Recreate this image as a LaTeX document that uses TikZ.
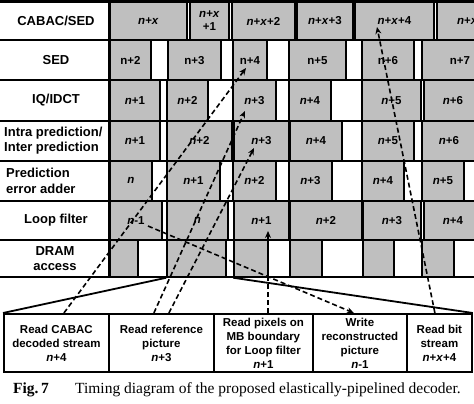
\documentclass[tikz,border=0pt]{standalone}
\usepackage{fontspec}
\setmainfont{Liberation Sans}
\newfontfamily\capfont{Liberation Serif}
\usetikzlibrary{arrows.meta}

\newcommand\nv{\textit{n}}
\newcommand\xv{\textit{x}}

\begin{document}
\begin{tikzpicture}[x=1pt, y=-1pt, >={Stealth[length=7pt,width=6pt]},
  cell/.style={draw, line width=1.5pt, fill=gray!50, inner sep=0pt, align=center,
    font=\bfseries\fontsize{11.5}{13}\selectfont},
  rowlbl/.style={inner sep=0pt, font=\bfseries\fontsize{13}{15}\selectfont},
  taskbox/.style={draw, line width=1.8pt, anchor=north west, minimum height=58,
    inner sep=0pt, align=center, font=\bfseries\fontsize{11.5}{14}\selectfont},
  link/.style={->, line width=1.6pt, dash pattern=on 5pt off 3pt}]
\useasboundingbox (0,0) rectangle (474,404);
\clip (0,0) rectangle (474,404);

% pipeline slots, one row per stage
\foreach \a/\b/\t [count=\i] in {110/187/\nv+\xv, 190/229/{\nv+\xv\\+1}, 232/295/\nv+\xv+2,
    297/353/\nv+\xv+3, 355/434/\nv+\xv+4, 437/511/\nv+\xv+5}
  \node[cell, minimum width=\b-\a, minimum height=39] (cab\i) at ({(\a+\b)/2},21) {\t};
\foreach \a/\b/\t [count=\i] in {110/151/n+2, 168/221/n+3, 233/267/n+4, 289/346/n+5,
    362/414/n+6, 422/498/n+7}
  \node[cell, minimum width=\b-\a, minimum height=40] (sed\i) at ({(\a+\b)/2},60.5) {\t};
\foreach \a/\b/\t [count=\i] in {110/160/\nv+1, 167/208/\nv+2, 233/276/\nv+3, 289/331/\nv+4,
    362/421/\nv+5, 424/482/\nv+6}
  \node[cell, minimum width=\b-\a, minimum height=40] (iq\i) at ({(\a+\b)/2},100.5) {\t};
\foreach \a/\b/\t [count=\i] in {110/160/\nv+1, 167/232/\nv+2, 234/289/\nv+3, 290/342/\nv+4,
    362/414/\nv+5, 422/476/\nv+6}
  \node[cell, minimum width=\b-\a, minimum height=40] (intra\i) at ({(\a+\b)/2},140.5) {\t};
\foreach \a/\b/\t [count=\i] in {110/152/\nv, 167/220/\nv+1, 233/276/\nv+2, 289/332/\nv+3,
    362/404/\nv+4, 422/464/\nv+5}
  \node[cell, minimum width=\b-\a, minimum height=40] (pred\i) at ({(\a+\b)/2},180.5) {\t};
\foreach \a/\b/\t [count=\i] in {110/162/\nv-1, 167/228/\nv, 234/289/\nv+1, 290/362/\nv+2,
    363/421/\nv+3, 424/482/\nv+4}
  \node[cell, minimum width=\b-\a, minimum height=39.5] (loop\i) at ({(\a+\b)/2},220.25) {\t};
\foreach \a/\b [count=\i] in {110/138, 167/226, 234/268, 290/322, 363/394, 422/454}
  \node[cell, minimum width=\b-\a, minimum height=37] (dram\i) at ({(\a+\b)/2},258.5) {};

% table rules
\draw[line width=3pt] (0,1.5) -- (474,1.5);
\foreach \y in {40.5,80.5,120.5,160.5,200.5,240,277}
  \draw[line width=2pt] (0,\y) -- (474,\y);
\draw[line width=2pt] (108.5,0) -- (108.5,277);

% stage names
\node[rowlbl] (lcab) at (56,21) {CABAC/SED};
\node[rowlbl] (lsed) at (56,60.5) {SED};
\node[rowlbl] (liq) at (56,100.5) {IQ/IDCT};
\node[rowlbl, anchor=west, align=left] (lintra) at (4,140.5) {Intra prediction/\\Inter prediction};
\node[rowlbl, anchor=west, align=left, font=\bfseries\fontsize{13}{16}\selectfont] (lpred) at (6,180.5) {Prediction\\error adder};
\node[rowlbl] (lloop) at (56,220) {Loop filter};
\node[rowlbl, align=center] (ldram) at (55,258.5) {DRAM\\access};

% DRAM accesses inside one slot
\node[taskbox, minimum width=105] (rdcabac) at (3,313) {Read CABAC\\decoded stream\\\nv+4};
\node[taskbox, minimum width=105] (rdref) at (108,313) {Read reference\\picture\\\nv+3};
\node[taskbox, minimum width=99] (rdpix) at (213,313) {Read pixels on\\MB boundary\\for Loop filter\\\nv+1};
\node[taskbox, minimum width=94] (wrrec) at (312,313) {Write\\reconstructed\\picture\\\nv-1};
\node[taskbox, minimum width=65] (rdbit) at (406,313) {Read bit\\stream\\\nv+\xv+4};

\draw[line width=1.8pt] (dram2.south west) -- (rdcabac.north west);
\draw[line width=1.8pt] (dram3.south west) -- (rdbit.north east);

\coordinate (sedtip) at (246,68);
\coordinate (iqtip) at (245,111);
\coordinate (intratip) at (254,148);
\coordinate (looptip) at (268,231);
\coordinate (cabtip) at (377,27);
\coordinate (wrfrom) at (148,226);

\draw[link] ([xshift=7.5pt]rdcabac.north) -- (sedtip);
\draw[link] ([xshift=-7.5pt]rdref.north) -- (iqtip);
\draw[link] ([xshift=7.5pt]rdref.north) -- (intratip);
\draw[link] (looptip |- rdpix.north) -- (looptip);
\draw[link] (wrfrom) -- ([xshift=-6pt]wrrec.north);
\draw[link] ([xshift=-4.5pt]rdbit.north) -- (cabtip);

% caption
\node[anchor=base west, inner sep=0pt, font=\capfont\bfseries\fontsize{15.5}{18}\selectfont] (figno) at (13,393) {Fig.\,7};
\node[anchor=base west, inner sep=0pt, font=\capfont\fontsize{15.5}{18}\selectfont] (figcap) at (75,393) {Timing diagram of the proposed elastically-pipelined decoder.};
\end{tikzpicture}
\end{document}
